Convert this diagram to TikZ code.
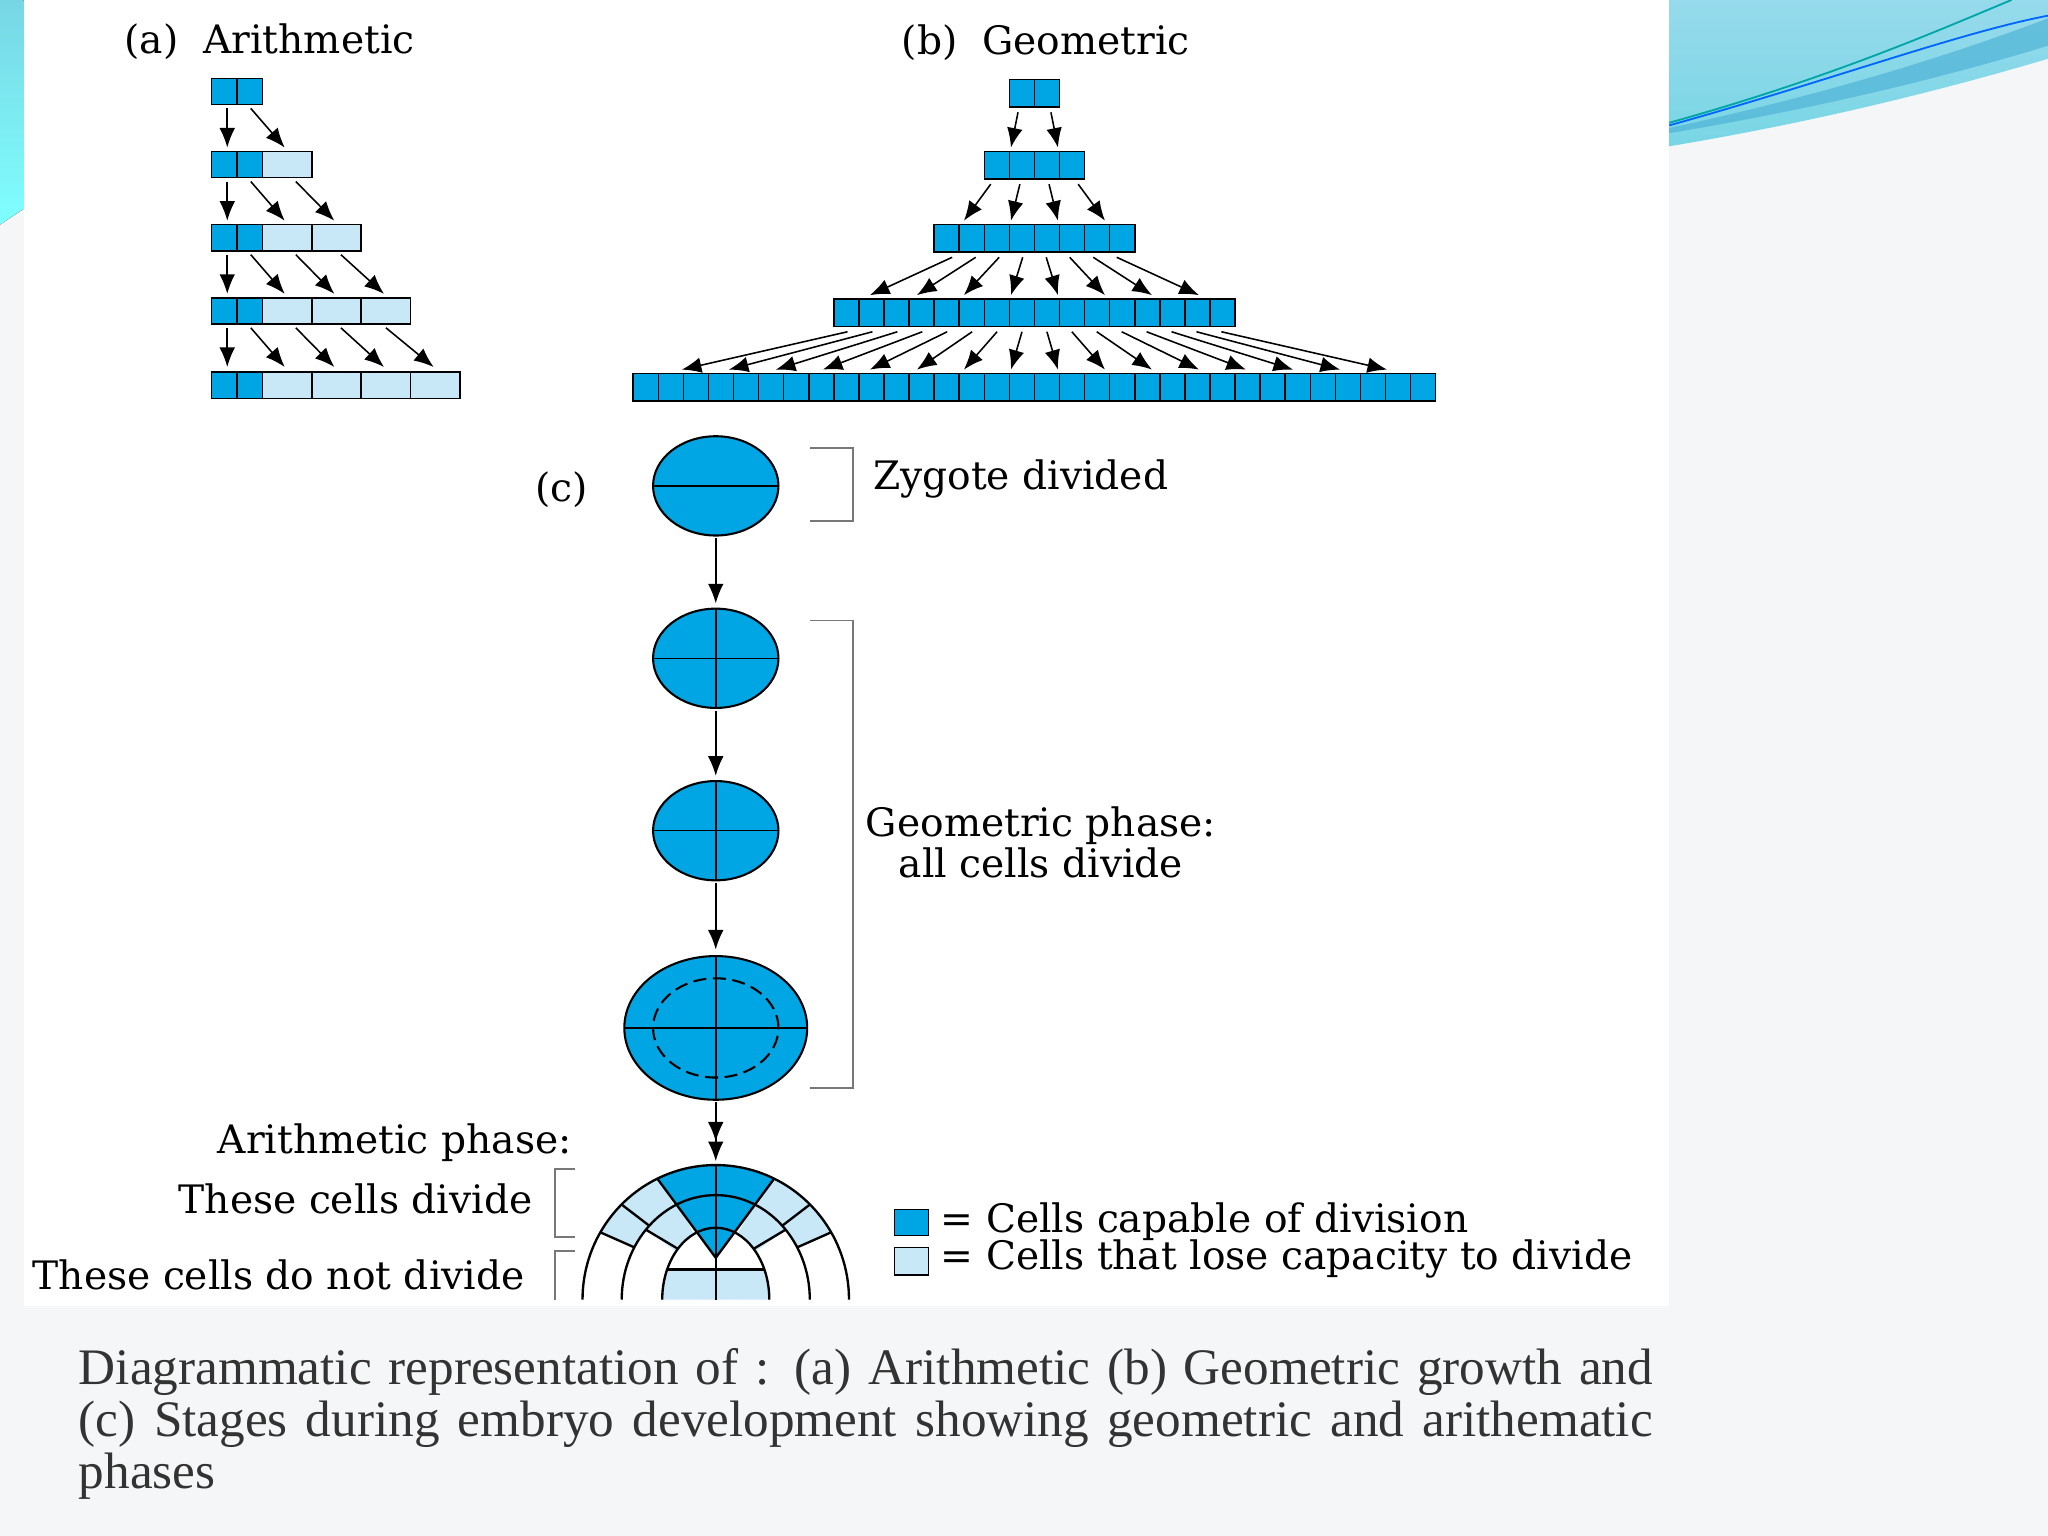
\documentclass[tikz,border=0pt]{standalone}
\usepackage{fontspec}
\setmainfont{Liberation Serif}
\newfontfamily\lbl{DejaVu Serif}
\usetikzlibrary{arrows.meta}
\definecolor{dk}{RGB}{0,166,228}
\definecolor{lt}{RGB}{200,232,248}
\definecolor{bg}{RGB}{244,246,248}
\definecolor{brk}{RGB}{120,120,120}
\definecolor{decA}{RGB}{150,218,236}
\definecolor{decB}{RGB}{120,214,228}
\definecolor{decC}{RGB}{80,180,215}
\begin{document}
\begin{tikzpicture}[x=0.5pt,y=0.5pt,
  dcell/.style={fill=dk,draw=black,line width=0.6pt},
  lcell/.style={fill=lt,draw=black,line width=0.6pt},
  arr/.style={-{Latex[length=7.5pt,width=6pt]},line width=0.6pt},
  lab/.style={font=\lbl\fontsize{15}{18}\selectfont,inner sep=0pt},
  bra/.style={draw=brk,line width=0.6pt},
  ring/.style={line width=0.9pt}]
\useasboundingbox (0,0) rectangle (1568,-1176);
\fill[bg] (0,0) rectangle (1568,-1176);
\fill[white] (18,0) rectangle (1278,-1000);
% left strip
\fill[top color=decB,bottom color=cyan!50!white] (0,0) -- (18,0) -- (18,-160) -- (0,-172) -- cycle;
% top-right decoration
\shade[top color=decA,bottom color=decB] (1278,0) -- (1568,0) -- (1568,-45) .. controls (1450,-80) and (1350,-100) .. (1278,-112) -- cycle;
\fill[decC,opacity=0.7] (1278,-98) .. controls (1400,-72) and (1500,-40) .. (1568,-14) -- (1568,-35) .. controls (1480,-62) and (1380,-85) .. (1278,-102) -- cycle;
\draw[teal!70!cyan,line width=0.7pt] (1278,-94) .. controls (1400,-60) and (1480,-25) .. (1540,0);
\draw[blue!60!cyan,line width=0.7pt] (1278,-96) .. controls (1400,-62) and (1500,-25) .. (1568,-12);

% (a) Arithmetic
\node[lab,anchor=west] (la) at (95,-32) {(a)\ \ Arithmetic};
\foreach \k/\t in {0/60,1/116,2/172,3/228,4/285}{
  \draw[dcell] (162,-\t) rectangle (181.5,-\t-20) (181.5,-\t) rectangle (201,-\t-20);
  \ifnum\k>0
    \foreach \j in {1,...,\k}{
      \draw[lcell] ({201+37.8*(\j-1)},-\t) rectangle ({201+37.8*\j},-\t-20);
    }
  \fi
}
\foreach \k/\t in {0/60,1/116,2/172,3/228}{
  \coordinate (va\k) at (174,-\t-23);
  \coordinate (vb\k) at (174,-\t-53);
  \draw[arr] (va\k) -- (vb\k);
  \foreach \j in {0,...,\k}{
    \coordinate (da) at ({192+34.5*\j},-\t-23);
    \coordinate (db) at ({218+38*\j},-\t-53);
    \draw[arr] (da) -- (db);
  }
}

% (b) Geometric
\node[lab,anchor=west] (lb) at (690,-33) {(b)\ \ Geometric};
\foreach \k/\t in {0/61,1/116,2/172,3/229,4/286}{
  \pgfmathtruncatemacro{\n}{2^(\k+1)}
  \pgfmathsetmacro{\x}{792-\n*19.2/2}
  \fill[dk] (\x,-\t) rectangle ({\x+\n*19.2},-\t-21);
  \foreach \i in {1,...,\n}{
    \draw[line width=0.6pt] ({\x+(\i-1)*19.2},-\t) rectangle ({\x+\i*19.2},-\t-21);
  }
}
\foreach \k/\t/\tn/\f in {0/61/116/0.7,1/116/172/0.62,2/172/229/0.5,3/229/286/0.53}{
  \pgfmathtruncatemacro{\n}{2^(\k+1)}
  \foreach \i in {1,...,\n}{
    \pgfmathsetmacro{\e}{(\i-1-(\n-1)/2)*36}
    \coordinate (ga) at ({792+\e*\f},-\t-25);
    \coordinate (gb) at ({792+\e},-\tn+3);
    \draw[arr] (ga) -- (gb);
  }
}

% (c)
\node[lab,anchor=center] (lc) at (430,-375) {(c)};
\def\cell#1#2#3#4{\filldraw[fill=dk,line width=0.8pt] (#1,#2) ellipse [x radius=#3,y radius=#4];}
\cell{548}{-372}{48}{38}
\draw[line width=0.6pt] (500,-372) -- (596,-372);
\cell{548}{-504}{48}{38}
\draw[line width=0.6pt] (500,-504) -- (596,-504) (548,-466) -- (548,-542);
\cell{548}{-636}{48}{38}
\draw[line width=0.6pt] (500,-636) -- (596,-636) (548,-598) -- (548,-674);
\cell{548}{-787}{70}{55}
\draw[line width=0.8pt,dash pattern=on 5pt off 2.5pt] (548,-787) ellipse [x radius=48,y radius=38];
\draw[line width=0.6pt] (478,-787) -- (618,-787) (548,-732) -- (548,-842);
\coordinate (z0) at (548,-412); \coordinate (z1) at (548,-462);
\coordinate (z2) at (548,-544); \coordinate (z3) at (548,-594);
\coordinate (z4) at (548,-676); \coordinate (z5) at (548,-727);
\coordinate (z6) at (548,-844); \coordinate (z7) at (548,-889);
\draw[arr] (z0) -- (z1);
\draw[arr] (z2) -- (z3);
\draw[arr] (z4) -- (z5);
\draw[-{Latex[length=7.5pt,width=6pt]Latex[length=7.5pt,width=6pt]},line width=0.6pt] (z6) -- (z7);

\draw[bra] (620,-343) -- (653,-343) -- (653,-399) -- (620,-399);
\node[lab,anchor=west] (zd) at (668,-367) {Zygote divided};
\draw[bra] (620,-475) -- (653,-475) -- (653,-833) -- (620,-833);
\node[lab,anchor=center,align=center] (gp) at (797,-645) {Geometric phase:\\[-2pt]all cells divide};

% embryo
\begin{scope}
\clip (446,-995) arc[start angle=180,end angle=0,x radius=102,y radius=103] -- cycle;
\fill[dk] (548,-963) -- (638,-841) -- (458,-841) -- cycle;
\end{scope}
\def\band#1#2#3#4#5#6{\fill[lt] ({548+#3*cos(#1)},{-995+#4*sin(#1)}) arc[start angle=#1,end angle=#2,x radius=#3,y radius=#4] -- ({548+#5*cos(#2)},{-995+#6*sin(#2)}) arc[start angle=#2,end angle=#1,x radius=#5,y radius=#6] -- cycle;}
\band{116}{150}{102}{103}{72}{80}
\band{30}{64}{102}{103}{72}{80}
\band{114}{138}{72}{80}{41}{55}
\band{42}{66}{72}{80}{41}{55}
\begin{scope}
\clip (507,-995) arc[start angle=180,end angle=0,x radius=41,y radius=55] -- cycle;
\fill[lt] (500,-972) rectangle (600,-995);
\draw[line width=0.9pt] (500,-972) -- (600,-972);
\end{scope}
\draw[ring] (446,-995) arc[start angle=180,end angle=0,x radius=102,y radius=103];
\draw[ring] (476,-995) arc[start angle=180,end angle=0,x radius=72,y radius=80];
\draw[ring] (507,-995) arc[start angle=180,end angle=0,x radius=41,y radius=55];
\draw[ring] (548,-892) -- (548,-995);
\draw[ring] (593,-902) -- (548,-963) -- (503,-902);
\foreach \a in {150,135,45,30}{
  \draw[ring] ({548+102*cos(\a)},{-995+103*sin(\a)}) -- ({548+72*cos(\a)},{-995+80*sin(\a)});
}
\foreach \a/\b in {138/135,42/45}{
  \draw[ring] ({548+72*cos(\a)},{-995+80*sin(\a)}) -- ({548+41*cos(\b)},{-995+55*sin(\b)});
}

\node[lab,anchor=east] (ap) at (438,-875) {Arithmetic phase:};
\node[lab,anchor=east] (cd) at (408,-918) {These cells divide};
\draw[bra] (440,-895) -- (425,-895) -- (425,-947) -- (440,-947);
\node[lab,anchor=east] (cn) at (402,-976) {These cells do not divide};
\draw[bra] (440,-958) -- (425,-958) -- (425,-995);

% legend
\draw[dcell] (685,-926) rectangle (711,-946);
\node[lab,anchor=west] (l1) at (720,-935) {= Cells capable of division};
\draw[lcell] (685,-955) rectangle (711,-976);
\node[lab,anchor=west] (l2) at (720,-964) {= Cells that lose capacity to divide};

% caption
\node[anchor=north west,inner sep=0pt,text=black!80,font=\fontsize{19.6}{20}\selectfont,text width=602.5pt,align=justify] (cap) at (60,-1032)
{Diagrammatic representation of : (a) Arithmetic (b) Geometric growth and\linebreak (c) Stages during embryo development showing geometric and arithematic\linebreak phases};
\end{tikzpicture}
\end{document}
